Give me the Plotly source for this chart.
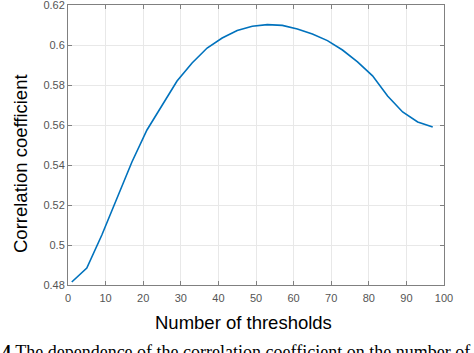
import plotly.graph_objects as go

thresholds = [1, 5, 9, 13, 17, 21, 25, 29, 33, 37, 41, 45, 49, 53, 57, 61, 65, 69, 73, 77, 81, 85, 89, 93, 97]
corr = [0.4815, 0.4885, 0.5050, 0.5235, 0.5415, 0.5575, 0.5700, 0.5820, 0.5910, 0.5985,
        0.6035, 0.6072, 0.6094, 0.6102, 0.6098, 0.6080, 0.6055, 0.6022, 0.5975, 0.5916,
        0.5846, 0.5745, 0.5665, 0.5615, 0.5590]
x_ticks = [0, 10, 20, 30, 40, 50, 60, 70, 80, 90, 100]
y_ticks = [0.48, 0.5, 0.52, 0.54, 0.56, 0.58, 0.6, 0.62]
y_labels = ["0.48", "0.5", "0.52", "0.54", "0.56", "0.58", "0.6", "0.62"]
x_title = "Number of thresholds"
y_title = "Correlation coefficient"
caption = "<b>4</b> The dependence of the correlation coefficient on the number of"

fig = go.Figure()
fig.add_trace(go.Scatter(x=thresholds, y=corr, mode="lines",
                         line=dict(color="#0072BD", width=1.6), showlegend=False))

axis_common = dict(showline=True, linecolor="#808080", linewidth=1, mirror="ticks",
                   ticks="inside", ticklen=4, tickcolor="#808080",
                   showgrid=True, gridcolor="#e8e8e8", gridwidth=1, zeroline=False,
                   ticklabeloverflow="allow", automargin=False,
                   tickfont=dict(family="Liberation Sans, Arial", size=11, color="#555555"))

fig.update_xaxes(range=[0, 100], tickvals=x_ticks, ticklabelstandoff=3, **axis_common)
fig.update_yaxes(range=[0.48, 0.62], tickvals=y_ticks, ticktext=y_labels, **axis_common)

title_font = dict(family="Liberation Sans, Arial", size=18.5, color="#000000")
fig.add_annotation(text=x_title, xref="paper", yref="paper",
                   x=(243 - 68) / 376, y=(285 - 322) / 280,
                   xanchor="center", yanchor="middle", showarrow=False, font=title_font)
fig.add_annotation(text=y_title, xref="paper", yref="paper",
                   x=(20 - 68) / 376, y=(285 - 164) / 280, textangle=-90,
                   xanchor="center", yanchor="middle", showarrow=False, font=title_font)

fig.add_annotation(text=caption, xref="paper", yref="paper", x=-68/376, y=(285-340)/280,
                   xanchor="left", yanchor="top", showarrow=False,
                   font=dict(family="Liberation Serif, Times New Roman", size=18, color="#000000"))

fig.update_layout(width=474, height=353, margin=dict(l=68, r=30, t=5, b=68),
                  paper_bgcolor="white", plot_bgcolor="white")

fig.write_html("out.html")
